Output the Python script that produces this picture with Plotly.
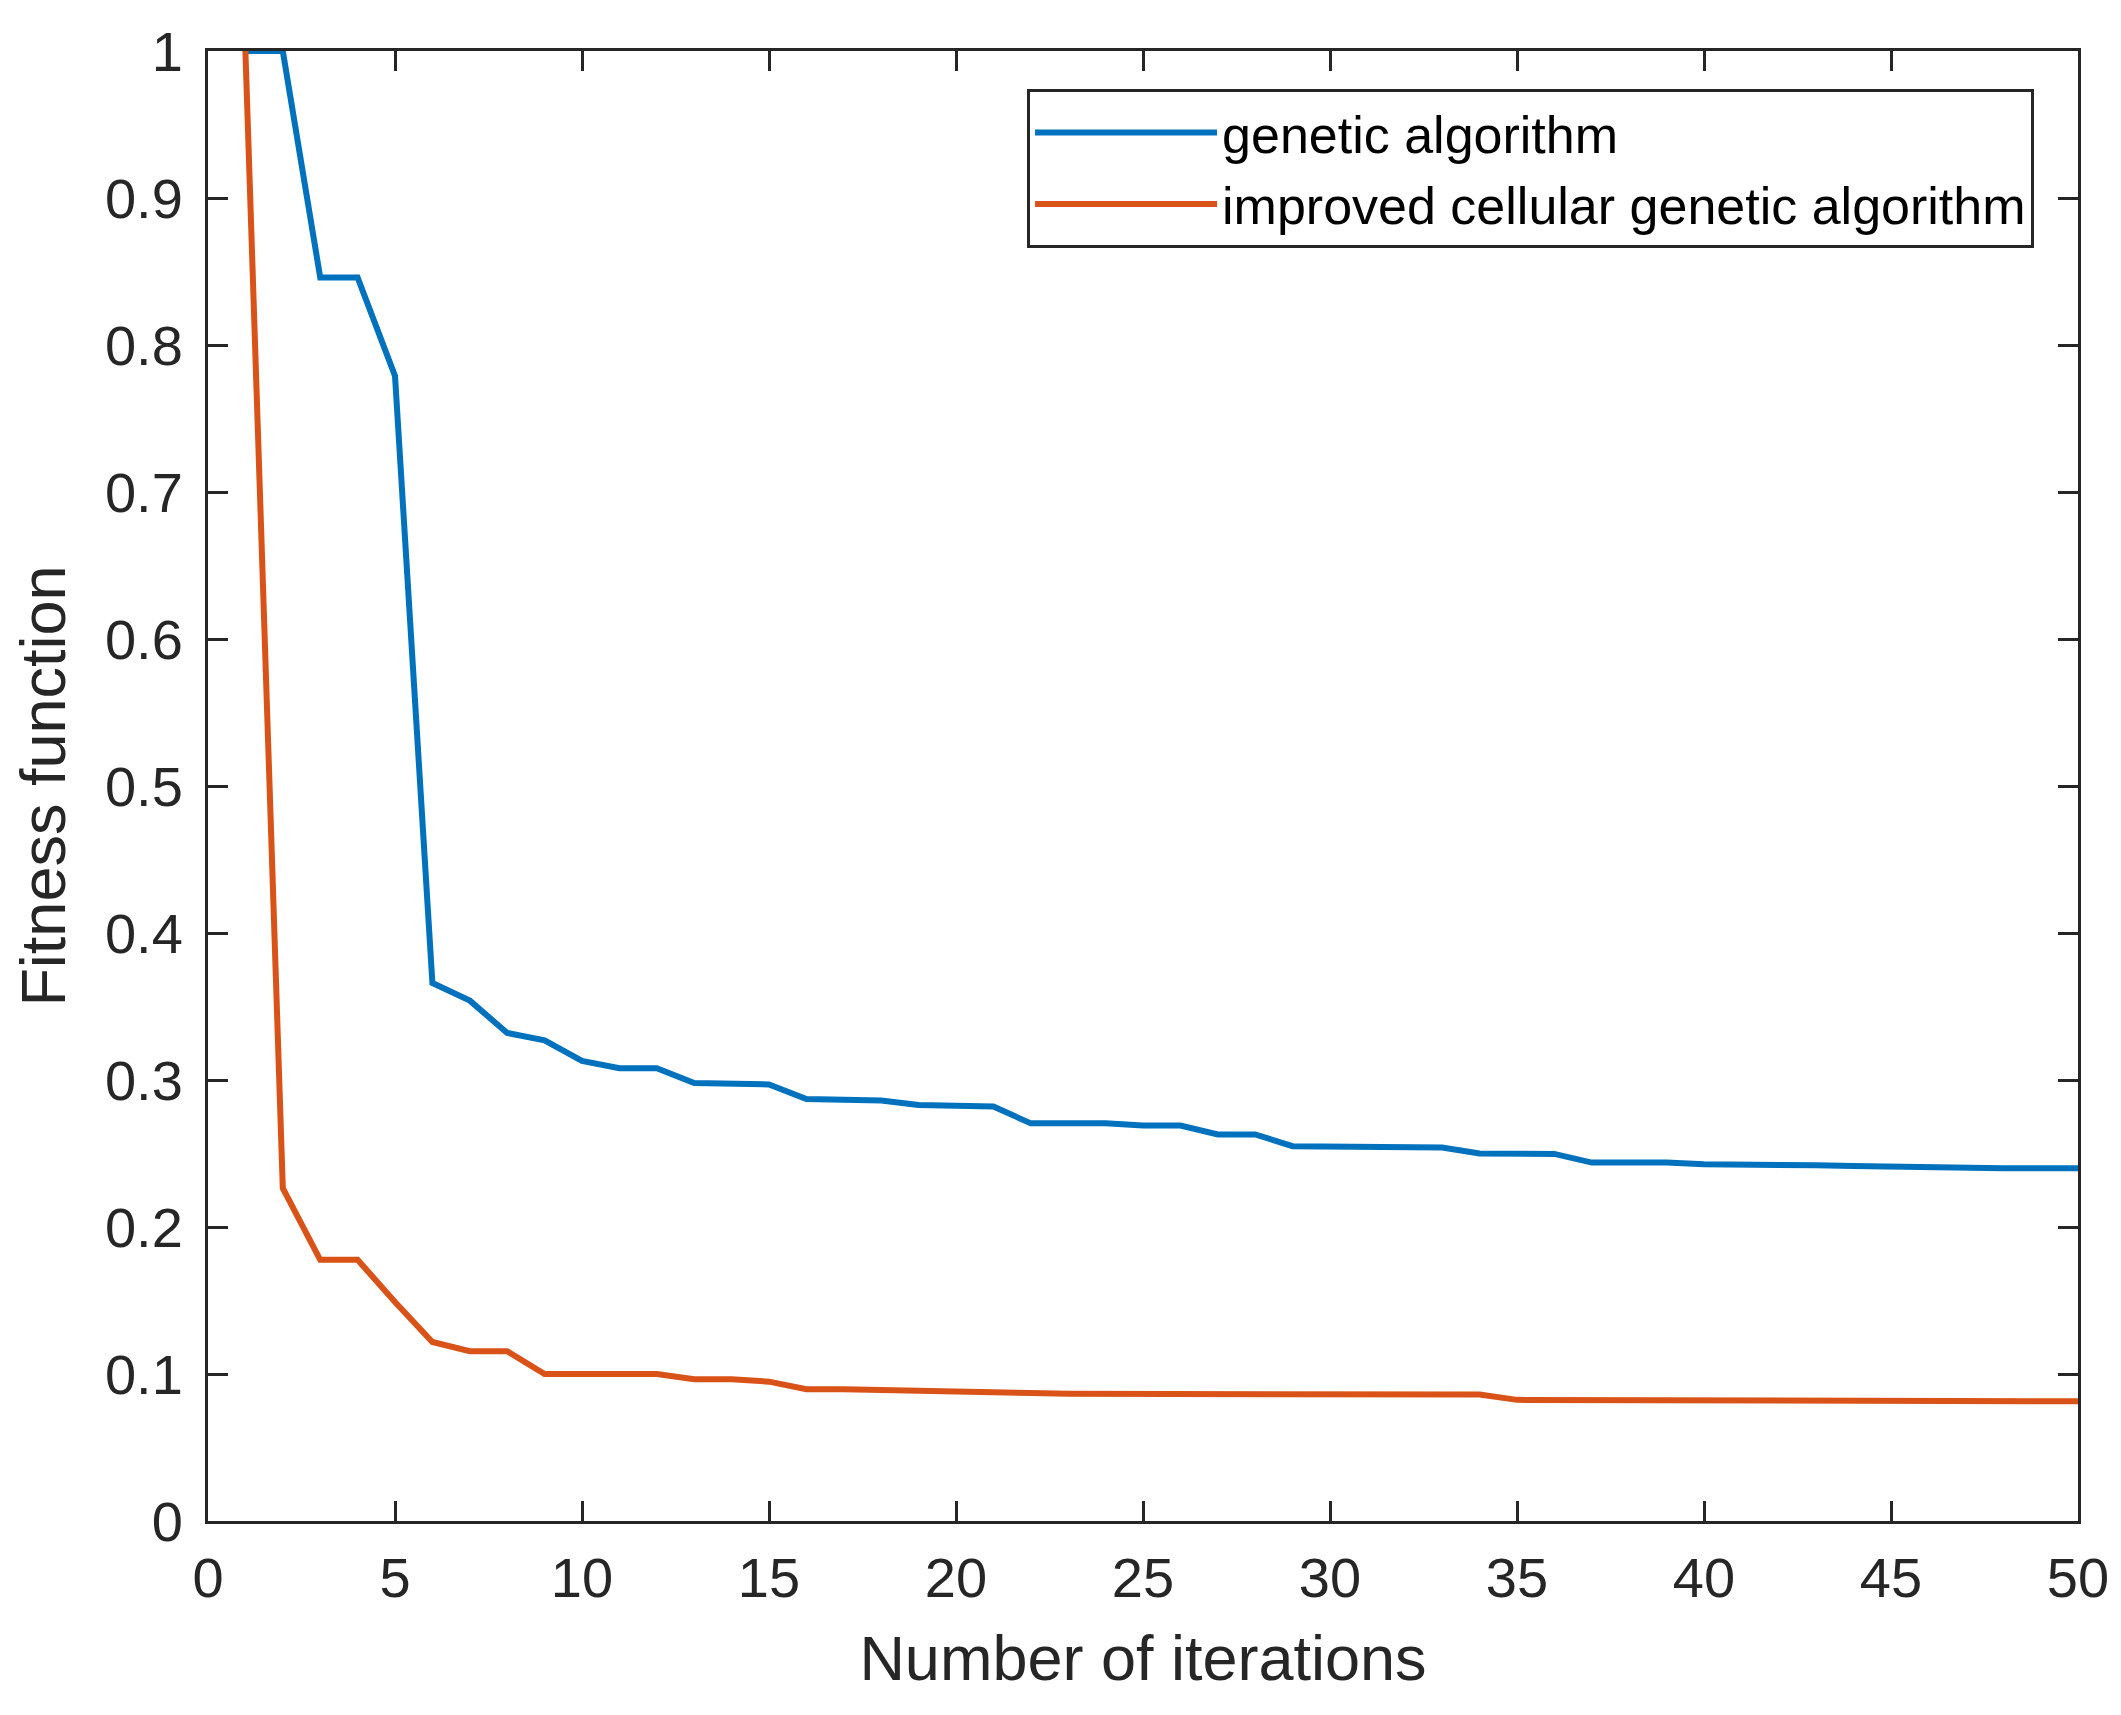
import plotly.graph_objects as go

iterations = list(range(1, 51))

ga_fitness = [1.000, 1.000, 0.846, 0.846, 0.779, 0.366, 0.354, 0.332, 0.327, 0.313,
              0.308, 0.308, 0.298, 0.298, 0.297, 0.287, 0.287, 0.286, 0.283, 0.283,
              0.282, 0.2705, 0.2705, 0.2705, 0.269, 0.269, 0.263, 0.263, 0.255, 0.255,
              0.254, 0.254, 0.254, 0.250, 0.250, 0.2497, 0.2438, 0.2438, 0.2438, 0.2427,
              0.2427, 0.2427, 0.242, 0.2415, 0.241, 0.240, 0.240, 0.240, 0.240, 0.240]

icga_fitness = [1.000, 0.2264, 0.1777, 0.1777, 0.149, 0.1218, 0.1155, 0.1155, 0.100, 0.100,
                0.100, 0.100, 0.0964, 0.0964, 0.0948, 0.0897, 0.0897, 0.089, 0.089, 0.0876,
                0.0871, 0.0871, 0.0866, 0.0866, 0.0866, 0.0866, 0.0866, 0.0866, 0.0866, 0.0866,
                0.0866, 0.0866, 0.0866, 0.086, 0.0824, 0.0824, 0.0824, 0.0824, 0.0824, 0.0824,
                0.0824, 0.0824, 0.0824, 0.0824, 0.0824, 0.082, 0.082, 0.082, 0.082, 0.0814]

series_names = ["genetic algorithm", "improved cellular genetic algorithm"]
series_colors = ["#0072BD", "#D95319"]

x_ticks = [0, 5, 10, 15, 20, 25, 30, 35, 40, 45, 50]
y_ticks = [0, 0.1, 0.2, 0.3, 0.4, 0.5, 0.6, 0.7, 0.8, 0.9, 1.0]
y_tick_text = ["0", "0.1", "0.2", "0.3", "0.4", "0.5", "0.6", "0.7", "0.8", "0.9", "1"]

x_title = "Number of iterations"
y_title = "Fitness function"

FONT = "Liberation Sans, Arial, Helvetica, sans-serif"
AX = "#262626"

fig = go.Figure()
for i, (name, vals, col) in enumerate(zip(series_names, [ga_fitness, icga_fitness], series_colors)):
    fig.add_trace(go.Scatter(x=iterations, y=vals, mode="lines", name=name,
                             legendgroup=f"g{i}",
                             line=dict(color=col, width=6), cliponaxis=True))

axis_common = dict(showline=True, linecolor=AX, linewidth=3, mirror="ticks",
                   ticks="inside", ticklen=20, tickwidth=3, tickcolor=AX,
                   showgrid=False, zeroline=False,
                   tickfont=dict(family=FONT, size=56, color=AX))

fig.update_layout(
    width=2113, height=1707,
    margin=dict(l=200, r=41, t=36, b=194),
    paper_bgcolor="white", plot_bgcolor="white",
    xaxis=dict(range=[0, 50], tickvals=x_ticks,
               title=dict(text=x_title, font=dict(family=FONT, size=63, color=AX), standoff=28),
               ticklabelstandoff=6, **axis_common),
    yaxis=dict(range=[0, 1], tickvals=y_ticks, ticktext=y_tick_text,
               title=dict(text=y_title, font=dict(family=FONT, size=63, color=AX), standoff=20),
               ticklabelstandoff=11, **axis_common),
    legend=dict(x=0.9765, y=0.974, xanchor="right", yanchor="top",
                bgcolor="white", bordercolor=AX, borderwidth=3,
                font=dict(family=FONT, size=52, color="black"),
                itemwidth=182, tracegroupgap=1),
    showlegend=True,
)

fig.write_html("out.html")
